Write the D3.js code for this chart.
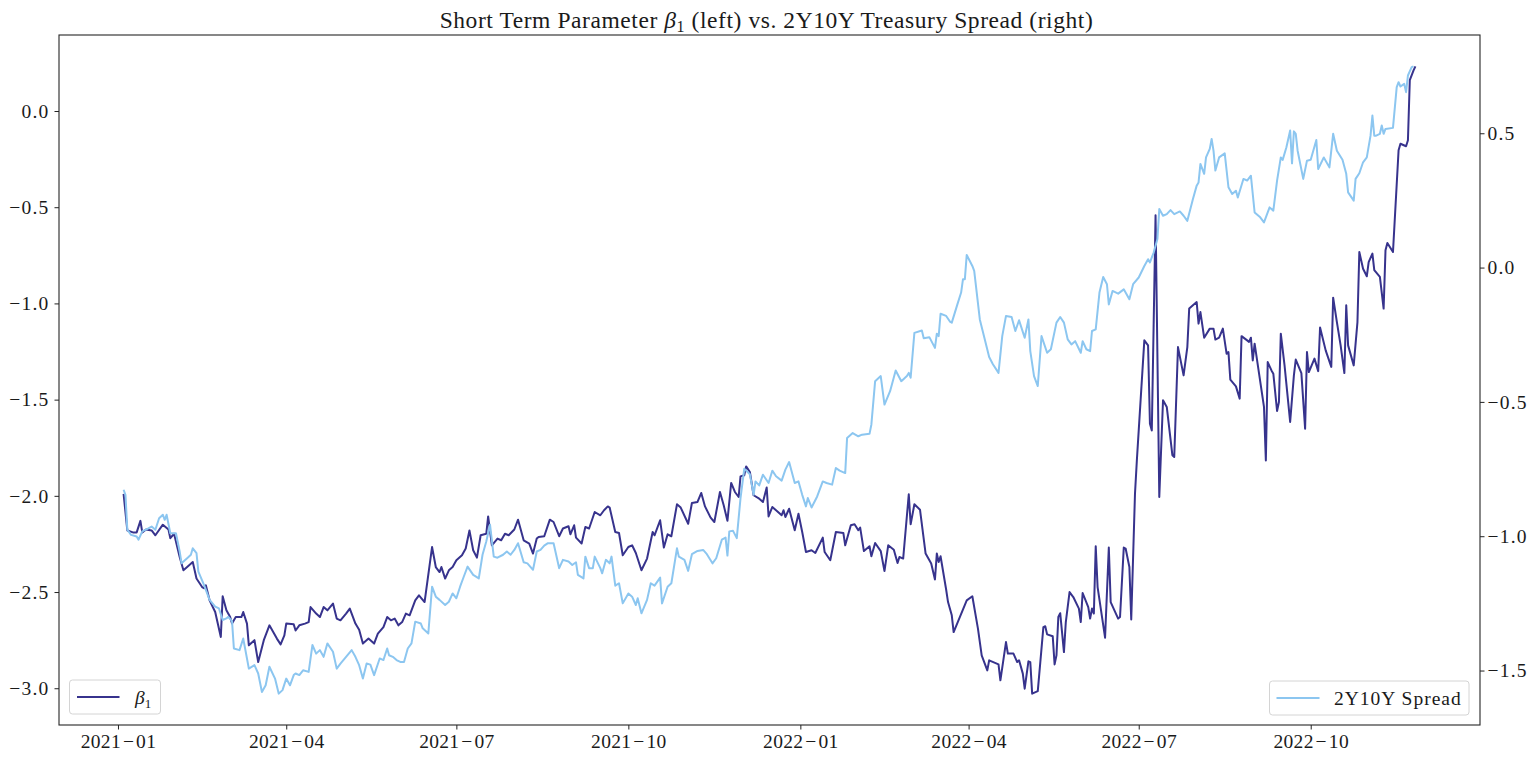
<!DOCTYPE html>
<html><head><meta charset="utf-8">
<script src="https://cdn.jsdelivr.net/npm/d3@7"></script>
<style>html,body{margin:0;padding:0;background:#fff;}svg{display:block;}</style>
</head><body>
<svg id="chart" width="1536" height="761"></svg>
<script>
// ---- data ----
const beta1Series = [
["2021-01-04",-1.99],["2021-01-06",-2.18],["2021-01-09",-2.19],["2021-01-11",-2.19],["2021-01-13",-2.13],["2021-01-14",-2.19],["2021-01-16",-2.175],["2021-01-19",-2.18],["2021-01-21",-2.205],["2021-01-25",-2.15],["2021-01-28",-2.175],["2021-01-29",-2.22],["2021-01-31",-2.197],
["2021-02-03",-2.318],["2021-02-05",-2.387],["2021-02-07",-2.37],["2021-02-10",-2.344],["2021-02-12",-2.43],["2021-02-15",-2.474],["2021-02-16",-2.48],["2021-02-17",-2.465],["2021-02-19",-2.543],["2021-02-22",-2.604],["2021-02-25",-2.734],["2021-02-26",-2.522],["2021-02-28",-2.595],
["2021-03-02",-2.63],["2021-03-03",-2.664],["2021-03-05",-2.63],["2021-03-08",-2.63],["2021-03-09",-2.604],["2021-03-11",-2.664],["2021-03-12",-2.777],["2021-03-15",-2.75],["2021-03-17",-2.864],["2021-03-20",-2.75],["2021-03-23",-2.673],["2021-03-27",-2.742],["2021-03-29",-2.772],["2021-03-31",-2.725],
["2021-04-01",-2.664],["2021-04-05",-2.668],["2021-04-06",-2.70],["2021-04-08",-2.673],["2021-04-11",-2.664],["2021-04-13",-2.656],["2021-04-14",-2.578],["2021-04-17",-2.612],["2021-04-19",-2.63],["2021-04-21",-2.578],["2021-04-23",-2.595],["2021-04-26",-2.56],["2021-04-28",-2.638],["2021-04-30",-2.647],
["2021-05-03",-2.612],["2021-05-05",-2.586],["2021-05-08",-2.664],["2021-05-10",-2.696],["2021-05-12",-2.768],["2021-05-15",-2.742],["2021-05-18",-2.768],["2021-05-20",-2.716],["2021-05-23",-2.682],["2021-05-25",-2.63],["2021-05-27",-2.647],["2021-05-29",-2.638],["2021-05-31",-2.673],
["2021-06-02",-2.656],["2021-06-04",-2.612],["2021-06-06",-2.621],["2021-06-09",-2.543],["2021-06-11",-2.517],["2021-06-14",-2.552],["2021-06-18",-2.266],["2021-06-20",-2.37],["2021-06-22",-2.396],["2021-06-23",-2.37],["2021-06-25",-2.43],["2021-06-27",-2.387],["2021-06-29",-2.37],
["2021-07-01",-2.335],["2021-07-04",-2.309],["2021-07-06",-2.274],["2021-07-08",-2.18],["2021-07-10",-2.283],["2021-07-12",-2.321],["2021-07-14",-2.205],["2021-07-17",-2.197],["2021-07-18",-2.107],["2021-07-20",-2.257],["2021-07-23",-2.222],["2021-07-25",-2.231],["2021-07-27",-2.197],["2021-07-29",-2.205],
["2021-08-01",-2.175],["2021-08-03",-2.124],["2021-08-06",-2.231],["2021-08-09",-2.248],["2021-08-11",-2.30],["2021-08-13",-2.222],["2021-08-14",-2.214],["2021-08-17",-2.21],["2021-08-20",-2.124],["2021-08-22",-2.136],["2021-08-25",-2.21],["2021-08-27",-2.17],["2021-08-30",-2.158],["2021-08-31",-2.20],
["2021-09-02",-2.153],["2021-09-03",-2.217],["2021-09-06",-2.248],["2021-09-08",-2.162],["2021-09-10",-2.17],["2021-09-13",-2.084],["2021-09-16",-2.101],["2021-09-18",-2.075],["2021-09-20",-2.055],["2021-09-21",-2.061],["2021-09-24",-2.188],["2021-09-26",-2.193],["2021-09-28",-2.309],
["2021-10-01",-2.266],["2021-10-03",-2.257],["2021-10-05",-2.297],["2021-10-08",-2.387],["2021-10-11",-2.326],["2021-10-14",-2.188],["2021-10-15",-2.205],["2021-10-18",-2.127],["2021-10-20",-2.269],["2021-10-22",-2.20],["2021-10-24",-2.21],["2021-10-27",-2.044],["2021-10-29",-2.061],
["2021-11-02",-2.145],["2021-11-04",-2.037],["2021-11-07",-2.032],["2021-11-09",-1.985],["2021-11-11",-2.055],["2021-11-14",-2.113],["2021-11-16",-2.136],["2021-11-19",-1.98],["2021-11-21",-2.049],["2021-11-23",-2.13],["2021-11-25",-1.933],["2021-11-27",-1.98],["2021-11-29",-2.006],["2021-11-30",-1.899],
["2021-12-02",-1.893],["2021-12-03",-1.847],["2021-12-05",-1.876],["2021-12-07",-1.997],["2021-12-10",-2.015],["2021-12-12",-2.032],["2021-12-14",-1.957],["2021-12-15",-2.107],["2021-12-17",-2.058],["2021-12-19",-2.075],["2021-12-22",-2.101],["2021-12-23",-2.075],["2021-12-24",-2.11],["2021-12-26",-2.067],["2021-12-29",-2.179],["2021-12-31",-2.093],
["2022-01-02",-2.188],["2022-01-04",-2.292],["2022-01-07",-2.283],["2022-01-09",-2.297],["2022-01-13",-2.217],["2022-01-14",-2.292],["2022-01-17",-2.335],["2022-01-20",-2.188],["2022-01-24",-2.193],["2022-01-25",-2.257],["2022-01-28",-2.153],["2022-01-30",-2.148],
["2022-02-01",-2.179],["2022-02-02",-2.165],["2022-02-04",-2.287],["2022-02-07",-2.262],["2022-02-08",-2.314],["2022-02-10",-2.245],["2022-02-13",-2.287],["2022-02-15",-2.391],["2022-02-17",-2.257],["2022-02-20",-2.28],["2022-02-22",-2.349],["2022-02-23",-2.318],["2022-02-25",-2.326],["2022-02-28",-1.992],
["2022-03-01",-2.148],["2022-03-03",-2.044],["2022-03-06",-2.072],["2022-03-09",-2.30],["2022-03-12",-2.352],["2022-03-14",-2.435],["2022-03-15",-2.30],["2022-03-16",-2.344],["2022-03-17",-2.314],["2022-03-20",-2.488],["2022-03-21",-2.552],["2022-03-23",-2.621],["2022-03-24",-2.708],["2022-03-31",-2.543],
["2022-04-03",-2.522],["2022-04-06",-2.69],["2022-04-08",-2.829],["2022-04-11",-2.907],["2022-04-12",-2.855],["2022-04-17",-2.876],["2022-04-18",-2.959],["2022-04-21",-2.76],["2022-04-22",-2.82],["2022-04-25",-2.82],["2022-04-27",-2.864],["2022-04-28",-2.855],["2022-04-30",-2.924],
["2022-05-01",-3.002],["2022-05-03",-2.86],["2022-05-04",-2.864],["2022-05-05",-3.028],["2022-05-08",-3.015],["2022-05-11",-2.682],["2022-05-12",-2.678],["2022-05-13",-2.72],["2022-05-16",-2.73],["2022-05-17",-2.876],["2022-05-18",-2.829],["2022-05-19",-2.63],["2022-05-20",-2.61],["2022-05-22",-2.812],["2022-05-23",-2.656],["2022-05-25",-2.50],["2022-05-27",-2.526],["2022-05-30",-2.586],["2022-05-31",-2.656],
["2022-06-01",-2.505],["2022-06-04",-2.578],["2022-06-05",-2.638],["2022-06-06",-2.586],["2022-06-07",-2.612],["2022-06-08",-2.262],["2022-06-09",-2.474],["2022-06-13",-2.737],["2022-06-15",-2.269],["2022-06-16",-2.552],["2022-06-20",-2.638],["2022-06-21",-2.63],["2022-06-23",-2.269],["2022-06-24",-2.274],["2022-06-26",-2.37],["2022-06-27",-2.643],["2022-06-29",-1.989],["2022-06-30",-1.816],
["2022-07-04",-1.192],["2022-07-06",-1.218],["2022-07-07",-1.625],["2022-07-08",-1.66],["2022-07-10",-0.542],["2022-07-12",-2.006],["2022-07-14",-1.503],["2022-07-16",-1.538],["2022-07-19",-1.789],["2022-07-20",-1.798],["2022-07-22",-1.227],["2022-07-25",-1.374],["2022-07-27",-1.227],["2022-07-28",-1.027],
["2022-08-01",-0.993],["2022-08-02",-1.105],["2022-08-03",-1.045],["2022-08-05",-1.178],["2022-08-08",-1.131],["2022-08-10",-1.131],["2022-08-11",-1.188],["2022-08-13",-1.178],["2022-08-15",-1.131],["2022-08-17",-1.261],["2022-08-18",-1.253],["2022-08-19",-1.396],["2022-08-22",-1.431],["2022-08-24",-1.495],["2022-08-25",-1.17],["2022-08-28",-1.192],["2022-08-29",-1.20],["2022-08-30",-1.178],["2022-08-31",-1.296],
["2022-09-01",-1.209],["2022-09-06",-1.538],["2022-09-07",-1.816],["2022-09-08",-1.305],["2022-09-10",-1.348],["2022-09-11",-1.365],["2022-09-13",-1.559],["2022-09-14",-1.512],["2022-09-15",-1.157],["2022-09-17",-1.322],["2022-09-20",-1.616],["2022-09-22",-1.374],["2022-09-23",-1.292],["2022-09-26",-1.362],["2022-09-28",-1.651],["2022-09-29",-1.253],["2022-09-30",-1.357],
["2022-10-03",-1.287],["2022-10-05",-1.352],["2022-10-06",-1.125],["2022-10-09",-1.244],["2022-10-12",-1.33],["2022-10-13",-0.97],["2022-10-15",-1.097],["2022-10-17",-1.218],["2022-10-19",-1.362],["2022-10-20",-1.01],["2022-10-21",-1.218],["2022-10-24",-1.322],["2022-10-26",-1.097],["2022-10-27",-0.733],["2022-10-29",-0.82],["2022-10-31",-0.859],
["2022-11-01",-0.785],["2022-11-03",-0.741],["2022-11-04",-0.827],["2022-11-07",-0.862],["2022-11-09",-1.027],["2022-11-10",-0.724],["2022-11-11",-0.686],["2022-11-14",-0.733],["2022-11-17",-0.204],["2022-11-18",-0.17],["2022-11-21",-0.183],["2022-11-22",-0.152],["2022-11-23",0.16],["2022-11-25",0.211],["2022-11-26",0.232]
];

const spreadSeries = [
["2021-01-04",-0.827],["2021-01-05",-0.846],["2021-01-06",-0.976],["2021-01-08",-0.995],["2021-01-11",-1.001],["2021-01-12",-1.013],["2021-01-14",-0.982],["2021-01-17",-0.972],["2021-01-19",-0.964],["2021-01-21",-0.976],["2021-01-23",-0.933],["2021-01-25",-0.92],["2021-01-26",-0.939],["2021-01-27",-0.92],["2021-01-29",-0.989],
["2021-02-01",-0.989],["2021-02-03",-1.057],["2021-02-04",-1.101],["2021-02-07",-1.082],["2021-02-09",-1.069],["2021-02-10",-1.045],["2021-02-12",-1.063],["2021-02-13",-1.132],["2021-02-16",-1.181],["2021-02-17",-1.20],["2021-02-19",-1.237],["2021-02-22",-1.262],["2021-02-24",-1.269],["2021-02-26",-1.312],["2021-02-28",-1.306],
["2021-03-01",-1.30],["2021-03-03",-1.316],["2021-03-04",-1.418],["2021-03-07",-1.424],["2021-03-09",-1.381],["2021-03-10",-1.418],["2021-03-12",-1.493],["2021-03-15",-1.48],["2021-03-17",-1.511],["2021-03-19",-1.58],["2021-03-21",-1.555],["2021-03-23",-1.486],["2021-03-26",-1.53],["2021-03-28",-1.586],["2021-03-30",-1.573],
["2021-04-01",-1.53],["2021-04-03",-1.555],["2021-04-05",-1.517],["2021-04-06",-1.511],["2021-04-08",-1.517],["2021-04-10",-1.499],["2021-04-13",-1.505],["2021-04-15",-1.405],["2021-04-17",-1.437],["2021-04-19",-1.424],["2021-04-21",-1.449],["2021-04-23",-1.399],["2021-04-26",-1.43],["2021-04-28",-1.493],["2021-04-30",-1.474],
["2021-05-03",-1.449],["2021-05-06",-1.424],["2021-05-08",-1.449],["2021-05-10",-1.48],["2021-05-12",-1.53],["2021-05-14",-1.474],["2021-05-16",-1.478],["2021-05-18",-1.517],["2021-05-21",-1.455],["2021-05-23",-1.461],["2021-05-25",-1.418],["2021-05-26",-1.443],["2021-05-28",-1.449],["2021-05-30",-1.461],
["2021-06-01",-1.468],["2021-06-03",-1.468],["2021-06-05",-1.418],["2021-06-07",-1.399],["2021-06-09",-1.318],["2021-06-12",-1.325],["2021-06-13",-1.343],["2021-06-16",-1.362],["2021-06-18",-1.188],["2021-06-20",-1.225],["2021-06-22",-1.237],["2021-06-25",-1.256],["2021-06-27",-1.244],["2021-06-29",-1.213],
["2021-07-01",-1.231],["2021-07-03",-1.188],["2021-07-05",-1.15],["2021-07-07",-1.113],["2021-07-10",-1.144],["2021-07-13",-1.157],["2021-07-15",-1.069],["2021-07-17",-1.02],["2021-07-19",-0.957],["2021-07-21",-1.076],["2021-07-23",-1.08],["2021-07-26",-1.069],["2021-07-28",-1.057],["2021-07-30",-1.069],
["2021-08-01",-1.051],["2021-08-03",-1.026],["2021-08-06",-1.097],["2021-08-08",-1.101],["2021-08-11",-1.125],["2021-08-13",-1.057],["2021-08-15",-1.051],["2021-08-17",-1.035],["2021-08-19",-1.026],["2021-08-22",-1.026],["2021-08-25",-1.119],["2021-08-27",-1.088],["2021-08-30",-1.094],
["2021-09-01",-1.107],["2021-09-03",-1.097],["2021-09-04",-1.144],["2021-09-07",-1.157],["2021-09-08",-1.076],["2021-09-10",-1.119],["2021-09-12",-1.119],["2021-09-13",-1.076],["2021-09-16",-1.119],["2021-09-17",-1.138],["2021-09-19",-1.088],["2021-09-21",-1.101],["2021-09-22",-1.076],["2021-09-24",-1.184],["2021-09-26",-1.175],["2021-09-28",-1.25],
["2021-10-01",-1.213],["2021-10-03",-1.225],["2021-10-05",-1.256],["2021-10-06",-1.231],["2021-10-08",-1.287],["2021-10-11",-1.237],["2021-10-13",-1.175],["2021-10-15",-1.184],["2021-10-18",-1.154],["2021-10-19",-1.25],["2021-10-22",-1.188],["2021-10-24",-1.175],["2021-10-27",-1.045],["2021-10-28",-1.076],["2021-10-31",-1.088],
["2021-11-02",-1.129],["2021-11-04",-1.067],["2021-11-07",-1.055],["2021-11-10",-1.051],["2021-11-12",-1.067],["2021-11-15",-1.101],["2021-11-17",-1.082],["2021-11-20",-1.013],["2021-11-22",-1.005],["2021-11-23",-1.072],["2021-11-24",-0.982],["2021-11-26",-0.98],["2021-11-28",-1.007],["2021-11-30",-0.858],
["2021-12-02",-0.749],["2021-12-05",-0.769],["2021-12-07",-0.846],["2021-12-08",-0.796],["2021-12-10",-0.811],["2021-12-12",-0.771],["2021-12-15",-0.802],["2021-12-17",-0.756],["2021-12-19",-0.777],["2021-12-22",-0.793],["2021-12-24",-0.752],["2021-12-26",-0.724],["2021-12-29",-0.802],["2021-12-31",-0.796],
["2022-01-02",-0.846],["2022-01-04",-0.889],["2022-01-05",-0.858],["2022-01-07",-0.893],["2022-01-10",-0.852],["2022-01-13",-0.796],["2022-01-15",-0.802],["2022-01-18",-0.808],["2022-01-20",-0.746],["2022-01-22",-0.756],["2022-01-25",-0.765],["2022-01-26",-0.634],["2022-01-29",-0.616],
["2022-02-01",-0.628],["2022-02-03",-0.622],["2022-02-07",-0.619],["2022-02-08",-0.584],["2022-02-10",-0.423],["2022-02-13",-0.404],["2022-02-15",-0.51],["2022-02-18",-0.46],["2022-02-21",-0.383],["2022-02-24",-0.423],["2022-02-27",-0.404],["2022-02-28",-0.392],
["2022-03-01",-0.41],["2022-03-03",-0.243],["2022-03-07",-0.234],["2022-03-08",-0.263],["2022-03-11",-0.259],["2022-03-14",-0.299],["2022-03-15",-0.246],["2022-03-16",-0.255],["2022-03-17",-0.172],["2022-03-20",-0.18],["2022-03-22",-0.201],["2022-03-23",-0.205],["2022-03-26",-0.137],["2022-03-28",-0.093],["2022-03-29",-0.043],["2022-03-30",-0.043],["2022-03-31",0.047],
["2022-04-03",0.006],["2022-04-04",-0.012],["2022-04-07",-0.193],["2022-04-09",-0.249],["2022-04-12",-0.333],["2022-04-14",-0.36],["2022-04-17",-0.392],["2022-04-19",-0.255],["2022-04-21",-0.18],["2022-04-24",-0.184],["2022-04-26",-0.236],["2022-04-28",-0.196],["2022-04-29",-0.218],
["2022-05-01",-0.261],["2022-05-03",-0.193],["2022-05-04",-0.311],["2022-05-06",-0.404],["2022-05-08",-0.441],["2022-05-10",-0.255],["2022-05-13",-0.317],["2022-05-15",-0.304],["2022-05-18",-0.205],["2022-05-20",-0.184],["2022-05-22",-0.205],["2022-05-24",-0.267],["2022-05-26",-0.286],["2022-05-28",-0.274],["2022-05-31",-0.317],
["2022-06-01",-0.274],["2022-06-03",-0.304],["2022-06-05",-0.311],["2022-06-06",-0.236],["2022-06-08",-0.23],["2022-06-10",-0.093],["2022-06-12",-0.035],["2022-06-14",-0.062],["2022-06-15",-0.137],["2022-06-17",-0.087],["2022-06-20",-0.097],["2022-06-23",-0.081],["2022-06-26",-0.118],["2022-06-28",-0.062],
["2022-07-01",-0.037],["2022-07-04",0.006],["2022-07-06",0.031],["2022-07-07",0.019],["2022-07-09",0.056],["2022-07-11",0.106],["2022-07-12",0.218],["2022-07-14",0.193],["2022-07-16",0.199],["2022-07-18",0.214],["2022-07-20",0.199],["2022-07-23",0.209],["2022-07-25",0.193],["2022-07-27",0.174],["2022-07-30",0.255],
["2022-08-01",0.305],["2022-08-02",0.317],["2022-08-03",0.386],["2022-08-05",0.349],["2022-08-06",0.41],["2022-08-08",0.442],["2022-08-09",0.479],["2022-08-10",0.435],["2022-08-11",0.361],["2022-08-13",0.41],["2022-08-16",0.425],["2022-08-18",0.299],["2022-08-20",0.274],["2022-08-22",0.286],["2022-08-23",0.261],["2022-08-26",0.33],["2022-08-28",0.324],["2022-08-30",0.342],
["2022-09-01",0.205],["2022-09-04",0.187],["2022-09-06",0.168],["2022-09-09",0.224],["2022-09-11",0.212],["2022-09-13",0.324],["2022-09-15",0.41],["2022-09-16",0.401],["2022-09-18",0.448],["2022-09-20",0.51],["2022-09-21",0.388],["2022-09-22",0.507],["2022-09-23",0.498],["2022-09-24",0.435],["2022-09-27",0.33],["2022-09-29",0.398],
["2022-10-01",0.401],["2022-10-04",0.475],["2022-10-05",0.367],["2022-10-08",0.41],["2022-10-11",0.373],["2022-10-13",0.498],["2022-10-15",0.435],["2022-10-18",0.401],["2022-10-20",0.349],["2022-10-21",0.28],["2022-10-24",0.249],["2022-10-25",0.33],["2022-10-27",0.351],["2022-10-29",0.392],["2022-10-31",0.41],
["2022-11-02",0.491],["2022-11-03",0.566],["2022-11-04",0.491],["2022-11-05",0.491],["2022-11-07",0.498],["2022-11-08",0.529],["2022-11-09",0.498],["2022-11-10",0.516],["2022-11-14",0.52],["2022-11-16",0.672],["2022-11-17",0.69],["2022-11-18",0.674],["2022-11-20",0.684],["2022-11-21",0.653],["2022-11-22",0.715],["2022-11-24",0.746],["2022-11-25",0.749]
];

const leftTicks = [-3.0, -2.5, -2.0, -1.5, -1.0, -0.5, 0.0];
const rightTicks = [-1.5, -1.0, -0.5, 0.0, 0.5];
const xTickDates = ["2021-01-01","2021-04-01","2021-07-01","2021-10-01","2022-01-01","2022-04-01","2022-07-01","2022-10-01"];
const seriesNames = ["β", "2Y10Y Spread"];
const titleParts = ["Short Term Parameter ", "β", "1", " (left) vs. 2Y10Y Treasury Spread (right)"];

// ---- layout ----
const FONT = "'Liberation Serif', 'DejaVu Serif', serif";
const plot = {left: 59, right: 1480, top: 35, bottom: 725};
const colorBeta = "#37338d";
const colorSpread = "#8cc6f0";

const parse = d3.utcParse("%Y-%m-%d");
const beta = beta1Series.map(d => ({date: parse(d[0]), v: d[1]}));
const spread = spreadSeries.map(d => ({date: parse(d[0]), v: d[1]}));

function pad(ext, f) { const r = ext[1] - ext[0]; return [ext[0] - r * f, ext[1] + r * f]; }
const dExt = d3.extent(beta.concat(spread), d => d.date);
const span = dExt[1] - dExt[0];
const x = d3.scaleUtc().domain([new Date(+dExt[0] - span * 0.05), new Date(+dExt[1] + span * 0.05)]).range([plot.left, plot.right]);
const yL = d3.scaleLinear().domain(pad(d3.extent(beta, d => d.v), 0.05)).range([plot.bottom, plot.top]);
const yR = d3.scaleLinear().domain(pad(d3.extent(spread, d => d.v), 0.05)).range([plot.bottom, plot.top]);

const svg = d3.select("#chart").style("font-family", FONT);
svg.append("rect").attr("width", 1536).attr("height", 761).attr("fill", "#fff");

svg.append("clipPath").attr("id", "clip").append("rect")
  .attr("x", plot.left).attr("y", plot.top).attr("width", plot.right - plot.left).attr("height", plot.bottom - plot.top);

const g = svg.append("g").attr("clip-path", "url(#clip)");
g.append("path").datum(beta)
  .attr("fill", "none").attr("stroke", colorBeta).attr("stroke-width", 2).attr("stroke-linejoin", "round")
  .attr("d", d3.line().x(d => x(d.date)).y(d => yL(d.v)));
g.append("path").datum(spread)
  .attr("fill", "none").attr("stroke", colorSpread).attr("stroke-width", 2).attr("stroke-linejoin", "round")
  .attr("d", d3.line().x(d => x(d.date)).y(d => yR(d.v)));

// axes
const fmtY = d3.format(".1f");
const fmtX = d => d3.utcFormat("%Y")(d) + "\u200A\u2212\u200A" + d3.utcFormat("%m")(d);

function styleAxis(sel) {
  sel.select(".domain").remove();
  sel.selectAll(".tick line").attr("stroke", "#222").attr("stroke-width", 1);
  sel.selectAll(".tick text").attr("fill", "#1a1a1a").style("font-size", "19.5px").style("font-family", FONT);
}

const axL = svg.append("g").attr("transform", `translate(${plot.left},0)`)
  .call(d3.axisLeft(yL).tickValues(leftTicks).tickFormat(fmtY).tickSizeOuter(0).tickSize(4.5).tickPadding(5));
styleAxis(axL);
axL.selectAll(".tick text").style("letter-spacing", "1.2px");

const axR = svg.append("g").attr("transform", `translate(${plot.right},0)`)
  .call(d3.axisRight(yR).tickValues(rightTicks).tickFormat(fmtY).tickSizeOuter(0).tickSize(4.5).tickPadding(3));
styleAxis(axR);
axR.selectAll(".tick text").style("letter-spacing", "1.2px");

const axB = svg.append("g").attr("transform", `translate(0,${plot.bottom})`)
  .call(d3.axisBottom(x).tickValues(xTickDates.map(parse)).tickFormat(fmtX).tickSizeOuter(0).tickSize(4.5));
styleAxis(axB);
axB.selectAll(".tick text").attr("dy", null).attr("y", 23).style("letter-spacing", "0.3px");

// frame
svg.append("rect").attr("x", plot.left).attr("y", plot.top)
  .attr("width", plot.right - plot.left).attr("height", plot.bottom - plot.top)
  .attr("fill", "none").attr("stroke", "#262626").attr("stroke-width", 1.1);

// title
const title = svg.append("text").attr("x", 766.5).attr("y", 28).attr("text-anchor", "middle")
  .attr("fill", "#1a1a1a").style("font-size", "23.5px");
title.append("tspan").text(titleParts[0]);
title.append("tspan").style("font-style", "italic").text(titleParts[1]);
title.append("tspan").attr("dy", 4).style("font-size", "16px").text(titleParts[2]);
title.append("tspan").attr("dy", -4).text(titleParts[3]);
(function fitTitle(){
  const w = title.node().getComputedTextLength();
  const n = titleParts.join("").length;
  const ls = (654 - w) / n;
  title.style("letter-spacing", ls.toFixed(2) + "px");
})();

// legends
function legend(x0, y0, w, h, color, lineX0, lineX1, textX, labelFn) {
  const lg = svg.append("g");
  lg.append("rect").attr("x", x0).attr("y", y0).attr("width", w).attr("height", h).attr("rx", 3)
    .attr("fill", "#fff").attr("fill-opacity", 0.8).attr("stroke", "#d4d4d4").attr("stroke-width", 1);
  const cy = y0 + h / 2;
  lg.append("line").attr("x1", lineX0).attr("x2", lineX1).attr("y1", cy).attr("y2", cy)
    .attr("stroke", color).attr("stroke-width", 2);
  const t = lg.append("text").attr("x", textX).attr("y", cy + 6.5).attr("fill", "#1a1a1a").style("font-size", "19.5px");
  labelFn(t);
}
legend(69.5, 680, 91, 34, colorBeta, 77, 119.5, 135, t => {
  t.append("tspan").style("font-style", "italic").text(seriesNames[0]);
  t.append("tspan").attr("dy", 4).style("font-size", "13px").text("1");
});
legend(1269.5, 681, 199.5, 34, colorSpread, 1276.5, 1319.5, 1334, t => {
  t.style("letter-spacing", "1px").text(seriesNames[1]);
});
</script>
</body></html>
